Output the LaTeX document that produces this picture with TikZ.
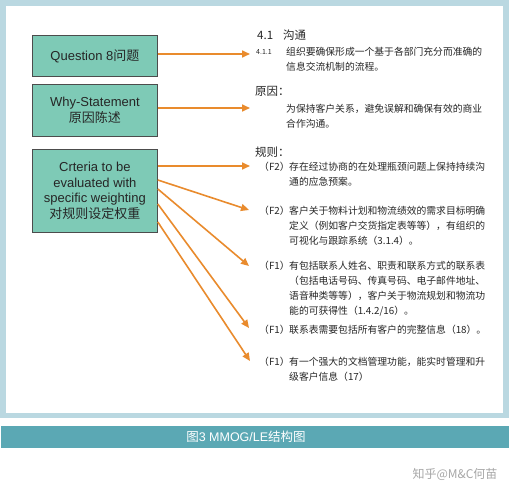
\documentclass[tikz,border=0pt]{standalone}
\usepackage{fontspec}
\setmainfont{Liberation Sans}
\newfontfamily\cjk{Noto Sans CJK SC}
\usepackage{tikz}
\usetikzlibrary{arrows.meta,calc}
\definecolor{framebl}{HTML}{BAD8E1}
\definecolor{capbar}{HTML}{5BA8B4}
\definecolor{boxgreen}{HTML}{7ECAB6}
\definecolor{arrorange}{HTML}{E98B2D}

\begin{document}
\begin{tikzpicture}[x=1pt,y=-1pt,
		sect/.style={draw=black!70,line width=0.8pt,fill=boxgreen,minimum width=125pt,inner sep=0pt,
			align=center,anchor=north west,text=black!85,font=\fontsize{13}{15.5}\selectfont},
		feed/.style={draw=arrorange,line width=1.6pt,-{Triangle[length=8pt,width=7pt]}},
		body/.style={anchor=north west,inner sep=0pt,align=left,text=black!85,font=\cjk\fontsize{9.8}{15}\selectfont},
		head/.style={anchor=west,inner sep=0pt,text=black!85,font=\cjk\fontsize{11.5}{14}\selectfont},
		tag/.style={anchor=west,inner sep=0pt,text=black!85,font=\cjk\fontsize{9.8}{12}\selectfont}]
		\useasboundingbox (0,0) rectangle (512,497);

		% Frame and caption
		\fill[framebl] (0,0) rectangle (509,418);
		\fill[white] (6,6) rectangle (503,413);
		\fill[capbar] (1,426) rectangle (509,448);
		\node[text=white,font=\fontsize{12.5}{14}\selectfont] (cap) at (246,437) {{\cjk 图}3 MMOG/LE{\cjk 结构图}};
		\node[text=black!35,font=\cjk\fontsize{12}{14}\selectfont] (mark) at (455,474) {知乎@M\&C何苗};

		% Left boxes
		\node[sect,minimum height=41pt] (quest) at (32,35) {Question 8{\cjk 问题}};
		\node[sect,minimum height=52pt] (why) at (32,84) {Why-Statement\\{\cjk 原因陈述}};
		\node[sect,minimum height=83pt] (crit) at (32,149) {Crteria to be\\evaluated with\\specific weighting\\{\cjk 对规则设定权重}};

		% Arrow tips
		\coordinate (t1) at (250,54);
		\coordinate (t2) at (250,108);
		\coordinate (t3) at (250,166);
		\coordinate (t4) at (249,210);
		\coordinate (t5) at (249,266);
		\coordinate (t6) at (249,328);
		\coordinate (t7) at (250,361);

		% Arrows
		\draw[feed] (quest.east |- t1) -- (t1);
		\draw[feed] (why.east |- t2) -- (t2);
		\draw[feed] (crit.east |- t3) -- (t3);
		\draw[feed] ($(crit.north east)+(0,31)$) -- (t4);
		\draw[feed] ($(crit.north east)+(0,40)$) -- (t5);
		\draw[feed] ($(crit.north east)+(0,55)$) -- (t6);
		\draw[feed] ($(crit.north east)+(0,73)$) -- (t7);

		% Section 4.1
		\node[head] (sec) at (257,35) {4.1};
		\node[head] (secname) at (283,35) {沟通};
		\node[tag,font=\cjk\fontsize{7}{8}\selectfont] (subsec) at (256,52) {4.1.1};
		\node[body] (subtext) at (286,47) {组织要确保形成一个基于各部门充分而准确的\\信息交流机制的流程。};

		% Reason
		\node[head] (reason) at (255,91) {原因：};
		\node[body] (reasontext) at (286,104) {为保持客户关系，避免误解和确保有效的商业\\合作沟通。};

		% Rules
		\node[head] (rules) at (255,152) {规则：};
		\node[tag] (tagA) at (259,167) {（F2）};
		\node[body] (ruleA) at (289,162) {存在经过协商的在处理瓶颈问题上保持持续沟\\通的应急预案。};
		\node[tag] (tagB) at (259,211) {（F2）};
		\node[body] (ruleB) at (289,206) {客户关于物料计划和物流绩效的需求目标明确\\定义（例如客户交货指定表等等），有组织的\\可视化与跟踪系统（3.1.4）。};
		\node[tag] (tagC) at (259,266) {（F1）};
		\node[body] (ruleC) at (289,261) {有包括联系人姓名、职责和联系方式的联系表\\（包括电话号码、传真号码、电子邮件地址、\\语音种类等等），客户关于物流规划和物流功\\能的可获得性（1.4.2/16）。};
		\node[tag] (tagD) at (259,330) {（F1）};
		\node[body] (ruleD) at (289,325) {联系表需要包括所有客户的完整信息（18）。};
		\node[tag] (tagE) at (259,362) {（F1）};
		\node[body] (ruleE) at (289,357) {有一个强大的文档管理功能，能实时管理和升\\级客户信息（17）};
	\end{tikzpicture}
\end{document}
